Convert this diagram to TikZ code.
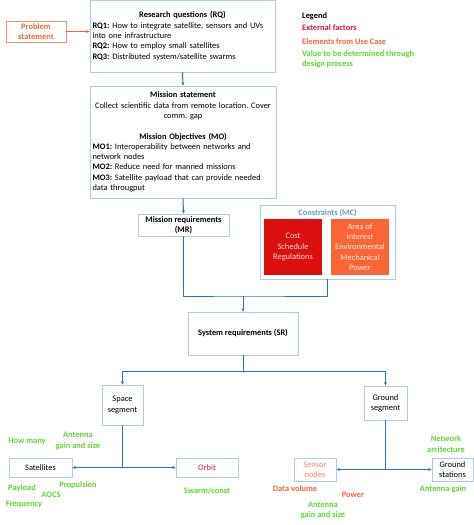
\documentclass[tikz,border=0pt]{standalone}
\usepackage{fontspec}
\setmainfont{Carlito}
\usepackage{tikz}
\usetikzlibrary{arrows.meta}
\frenchspacing

\definecolor{boxblue}{RGB}{170,205,232}
\definecolor{connblue}{RGB}{46,117,182}
\definecolor{titleblue}{RGB}{91,155,213}
\definecolor{extred}{RGB}{225,20,60}
\definecolor{useorange}{RGB}{245,100,60}
\definecolor{sensororange}{RGB}{245,130,100}
\definecolor{valgreen}{RGB}{95,215,50}
\definecolor{costred}{RGB}{220,15,15}
\definecolor{areaorange}{RGB}{250,100,55}

\tikzset{
  box/.style={draw=boxblue, line width=0.8pt, fill=white, align=center},
  conn/.style={draw=connblue, line width=1pt},
  tip/.style={-{Stealth[length=3.5pt,width=3pt]}},
  valtxt/.style={text=valgreen, font=\fontsize{8.4}{10.3}\selectfont\bfseries, align=center},
  usetxt/.style={text=useorange, font=\fontsize{8.4}{10.3}\selectfont\bfseries, align=center}
}

\begin{document}
\begin{tikzpicture}[x=1pt, y=-1pt,
  every node/.style={font=\fontsize{8.4}{10.3}\selectfont, inner sep=0pt}]
    \useasboundingbox[fill=white] (0,0) rectangle (474,525);

    % top row
    \node[draw=useorange!70, line width=0.8pt, minimum width=60pt, minimum height=21pt, align=center,
          text=useorange, font=\fontsize{8.4}{10.3}\selectfont\bfseries](prob) at (36,31.5) {Problem\\statement};
    \node[box, minimum width=185pt, minimum height=72pt, text width=180pt, align=left](rq) at (182.5,36)
        {{\centering\textbf{Research questions (RQ)}\par}
         \textbf{RQ1:} How to integrate satellite, sensors and UVs\\
         into one infrastructure\\
         \textbf{RQ2:} How to employ small satellites\\
         \textbf{RQ3:} Distributed system/satellite swarms};

    % legend
    \node[anchor=west, font=\fontsize{8.4}{10.3}\selectfont\bfseries](lgd) at (302,16) {Legend};
    \node[anchor=west, text=extred, font=\fontsize{8.4}{10.3}\selectfont\bfseries](lgdext) at (302,28) {External factors};
    \node[anchor=west, usetxt](lgduse) at (302,42) {Elements from Use Case};
    \node[anchor=west, valtxt, align=left](lgdval) at (302,59) {Value to be determined through\\design process};

    % mission
    \node[box, minimum width=186pt, minimum height=112pt, text width=181pt, align=left](mis) at (183,142)
        {{\centering\textbf{Mission statement}\\
          Collect scientific data from remote location. Cover\\
          comm. gap\\[10.3pt]
          \textbf{Mission Objectives (MO)}\par}
         \textbf{MO1:} Interoperability between networks and\\
         network nodes\\
         \textbf{MO2:} Reduce need for manned missions\\
         \textbf{MO3:} Satellite payload that can provide needed\\
         data througput};

    \node[box, minimum width=91pt, minimum height=22pt, font=\fontsize{8.4}{10.3}\selectfont\bfseries](mr) at (183.5,225)
        {Mission requirements\\(MR)};

    % constraints
    \node[box, minimum width=135pt, minimum height=74pt](mc) at (327.5,242) {};
    \node[text=titleblue, font=\fontsize{8.4}{10.3}\selectfont\bfseries](mctitle) at (327.5,213) {Constraints (MC)};
    \node[fill=costred, text=red!15, minimum width=58pt, minimum height=56pt, align=center](mccost) at (293,247)
        {Cost\\Schedule\\Regulations};
    \node[fill=areaorange, text=orange!10, minimum width=58pt, minimum height=56pt, align=center](mcarea) at (360,247)
        {Area of\\interest\\Environmental\\Mechanical\\Power};

    \node[box, minimum width=110pt, minimum height=43pt, font=\fontsize{8.4}{10.3}\selectfont\bfseries](sr) at (243,333.5)
        {System requirements (SR)};

    % segments
    \node[box, minimum width=41pt, minimum height=40pt](space) at (122.5,405) {Space\\segment};
    \node[box, minimum width=43pt, minimum height=34pt](ground) at (385.5,403) {Ground\\segment};

    \node[box, minimum width=63pt, minimum height=19pt](sat) at (40.5,467.5) {Satellites};
    \node[box, minimum width=62pt, minimum height=19pt, text=extred](orbit) at (207,467.5) {Orbit};
    \node[box, minimum width=42pt, minimum height=23pt, text=sensororange](sensor) at (315,469.5) {Sensor\\nodes};
    \node[box, minimum width=41pt, minimum height=23pt](gst) at (452.5,469.5) {Ground\\stations};

    % junctions
    \coordinate (j1) at (243,296);
    \coordinate (j2) at (243,371);
    \coordinate (j3) at (122.5,467.5);
    \coordinate (j4) at (385.5,469.5);

    % labels
    \node[valtxt](howmany) at (27,441) {How many};
    \node[valtxt](satant) at (78,441) {Antenna\\gain and size};
    \node[valtxt](payload) at (22,488) {Payload};
    \node[valtxt](propul) at (78,485) {Propulsion};
    \node[valtxt](aocs) at (51,495) {AOCS};
    \node[valtxt](freq) at (24,504) {Frequency};
    \node[valtxt](swarm) at (207,491) {Swarm/const};
    \node[valtxt](netarch) at (446,444) {Network\\arcitecture};
    \node[valtxt](gsant) at (443,489) {Antenna gain};
    \node[usetxt](datavol) at (295,489) {Data volume};
    \node[usetxt](power) at (353,495) {Power};
    \node[valtxt](snant) at (323,510.5) {Antenna\\gain and size};

    % connectors
    \draw[tip, draw=useorange, line width=1pt] (prob.east) -- (rq.west |- prob.east);
    \path[conn]
    (rq.south) edge[tip] (mis.north)
    (mis.south) edge[tip] (mr.north);
    \draw[conn] (mr.south) |- (j1) -| (mc.south);
    \draw[conn, tip] (j1) -- (sr.north);
    \draw[conn] (sr.south) -- (j2);
    \draw[conn, tip] (j2) -| (space.north);
    \draw[conn, tip] (j2) -| (ground.north);
    \draw[conn] (space.south) -- (j3);
    \draw[conn, tip] (j3) -- (sat.east);
    \draw[conn, tip] (j3) -- (orbit.west);
    \draw[conn] (ground.south) -- (j4);
    \draw[conn, tip] (j4) -- (sensor.east);
    \draw[conn, tip] (j4) -- (gst.west);
\end{tikzpicture}
\end{document}
